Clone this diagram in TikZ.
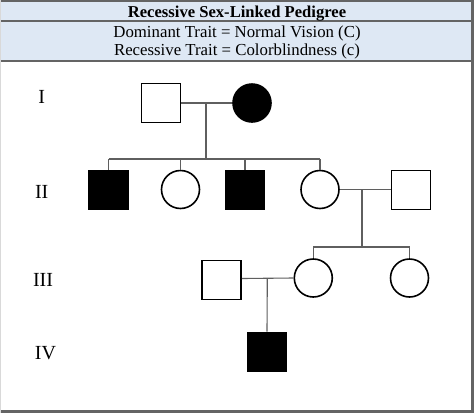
\documentclass[tikz,border=0pt]{standalone}
\usepackage{fontspec}
\setmainfont{Liberation Serif}
\definecolor{hdr}{RGB}{222,232,244}
\definecolor{rule}{RGB}{100,100,100}
\definecolor{link}{RGB}{95,95,95}
\begin{document}
\begin{tikzpicture}[x=1pt,y=-1pt,
  male/.style={draw=black,line width=1.6pt,rectangle,minimum size=39pt,inner sep=0pt},
  female/.style={draw=black,line width=1.6pt,circle,minimum size=38pt,inner sep=0pt},
  aff/.style={fill=black},
  un/.style={fill=white},
  link/.style={draw=link,line width=1.1pt},
  gen/.style={font=\fontsize{20}{24}\selectfont,anchor=base,inner sep=0pt},
  hdrtxt/.style={font=\fontsize{16.8}{20}\selectfont,anchor=base,inner sep=0pt}]
\useasboundingbox (0,0) rectangle (474,413);
\fill[white] (0,0) rectangle (474,413);
% header
\fill[hdr] (0,1) rectangle (471,61);
\draw[rule,line width=2pt] (0,1) -- (474,1);
\draw[rule,line width=1.5pt] (0,21) -- (471,21);
\draw[rule,line width=1.8pt] (0,61) -- (471,61);
\draw[rule,line width=3pt] (472.5,0) -- (472.5,413);
\draw[rule,line width=3pt] (0,411.5) -- (474,411.5);
\draw[black!15,line width=1pt] (0.5,0) -- (0.5,413);
\node[hdrtxt,font=\bfseries\fontsize{16.6}{20}\selectfont] (t1) at (237,17) {Recessive Sex-Linked Pedigree};
\node[hdrtxt] (t2) at (237,37) {Dominant Trait = Normal Vision (C)};
\node[hdrtxt] (t3) at (237,55.5) {Recessive Trait = Colorblindness (c)};
% generation labels
\node[gen] (gI) at (41.7,103) {I};
\node[gen] (gII) at (41.7,198) {II};
\node[gen] (gIII) at (43,286) {III};
\node[gen] (gIV) at (45.5,359.5) {IV};
% generation I
\node[male,un] (a1) at (161,103) {};
\node[female,aff] (b1) at (252,103) {};
\coordinate (m1) at (206,103);
\coordinate (s1) at (206,159);
% generation II
\node[male,aff] (a2) at (108.5,190) {};
\node[female,un] (b2) at (180.5,189.5) {};
\node[male,aff] (c2) at (245,190) {};
\node[female,un] (d2) at (320,189.5) {};
\node[male,un] (e2) at (411,190) {};
\coordinate (m2) at (362,189.5);
\coordinate (s2) at (362,247);
% generation III
\node[male,un] (a3) at (221.5,280) {};
\node[female,un] (b3) at (313.3,278) {};
\node[female,un] (c3) at (409.5,278) {};
\coordinate (m3) at (267.3,278.5);
% generation IV
\node[male,aff] (a4) at (267,352) {};
% connectors
\draw[link] (a1.east) -- (b1.west);
\draw[link] (m1) -- (s1);
\draw[link] (a2 |- s1) -- (d2 |- s1);
\draw[link] (a2 |- s1) -- (a2.north);
\draw[link] (b2 |- s1) -- (b2.north);
\draw[link] (c2 |- s1) -- (c2.north);
\draw[link] (d2 |- s1) -- (d2.north);
\draw[link] (d2.east) -- (e2.west |- d2.east);
\draw[link] (m2) -- (s2);
\draw[link] (b3 |- s2) -- (c3 |- s2);
\draw[link] (b3 |- s2) -- (b3.north);
\draw[link] (c3 |- s2) -- (c3.north);
\draw[link] (a3.east |- m3) -- (b3.west);
\draw[link] (m3) -- (a4.north);
\end{tikzpicture}
\end{document}
